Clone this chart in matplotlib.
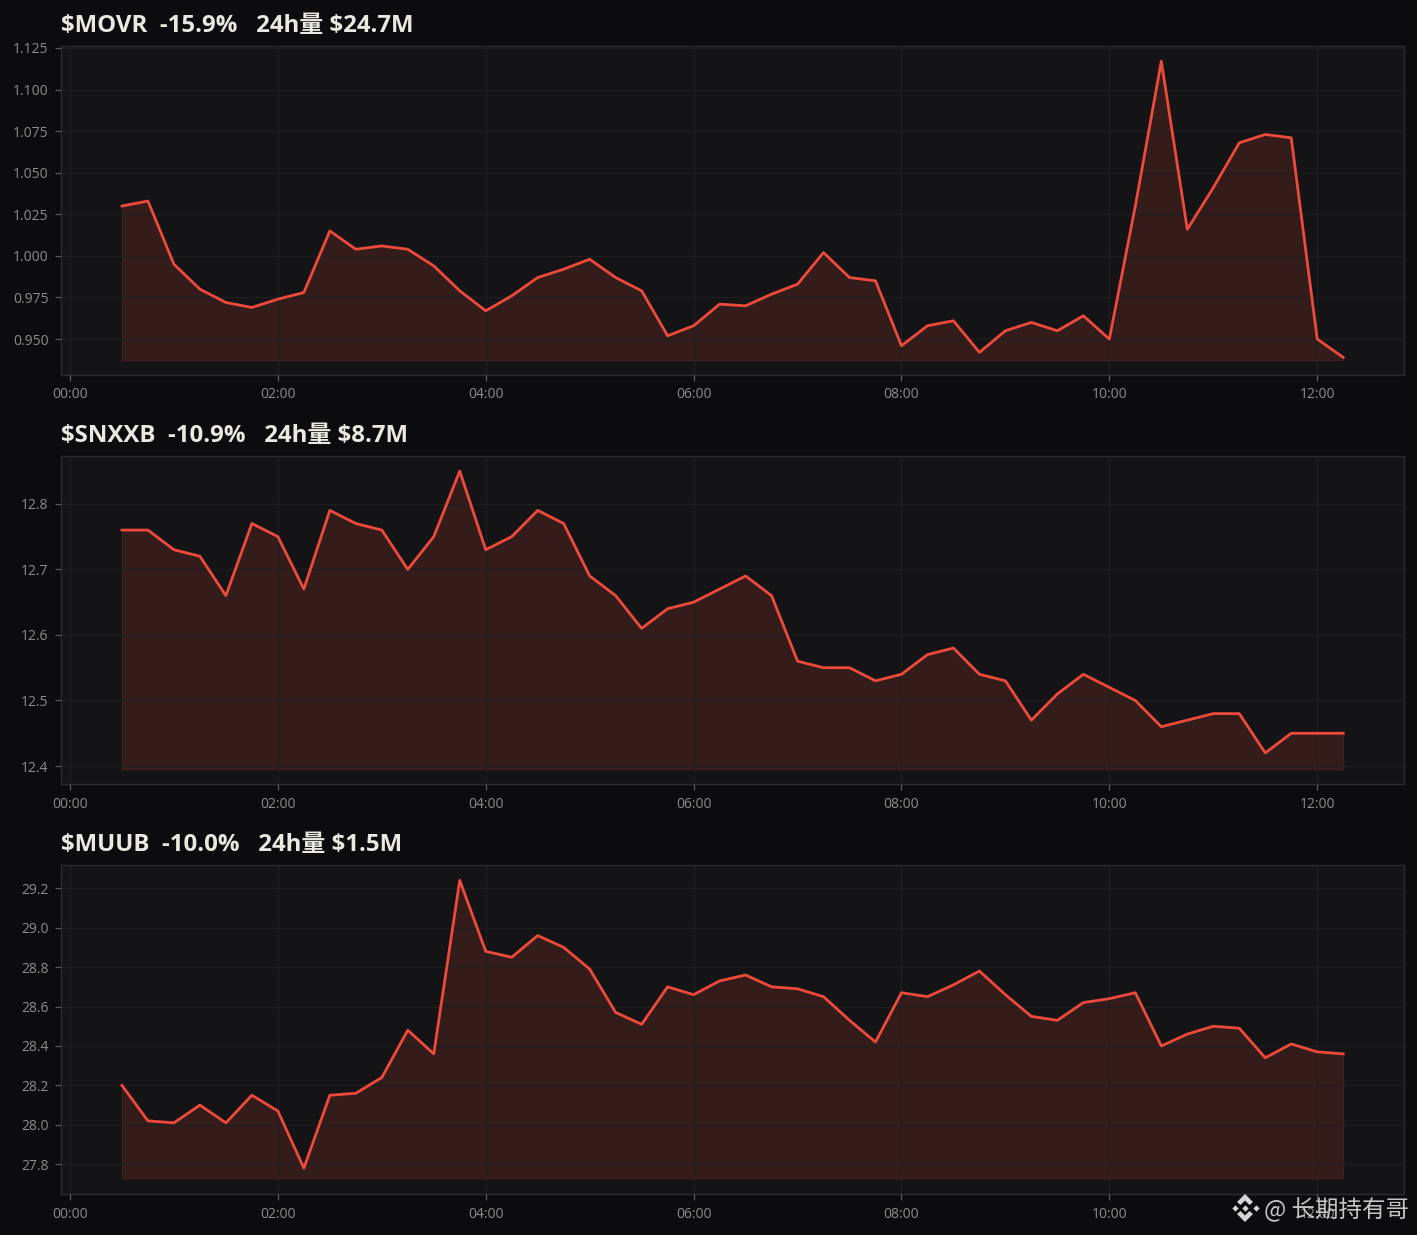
import matplotlib
matplotlib.use("Agg")
import matplotlib.pyplot as plt
from matplotlib.patches import Polygon
from matplotlib.lines import Line2D

W, H = 1417, 1235
BG = "#0c0c0e"
PANEL = "#141416"
GRID = "#1f1f22"
SPINE = "#2d2d30"
TICK = "#8c8c8c"
TITLE = "#ebe8e1"
RED = "#ee4a3c"

plt.rcParams["font.family"] = ["Open Sans", "Noto Sans CJK SC", "DejaVu Sans"]

hours = [0.5 + 0.25 * i for i in range(48)]
hour_ticks = [0, 2, 4, 6, 8, 10, 12]
hour_labels = ["00:00", "02:00", "04:00", "06:00", "08:00", "10:00", "12:00"]

movr = [1.030, 1.033, 0.995, 0.980, 0.972, 0.969, 0.974, 0.978, 1.015, 1.004, 1.006, 1.004,
        0.994, 0.979, 0.967, 0.976, 0.987, 0.992, 0.998, 0.987, 0.979, 0.952, 0.958, 0.971,
        0.970, 0.977, 0.983, 1.002, 0.987, 0.985, 0.946, 0.958, 0.961, 0.942, 0.955, 0.960,
        0.955, 0.964, 0.950, 1.030, 1.117, 1.016, 1.041, 1.068, 1.073, 1.071, 0.950, 0.939]
snxxb = [12.76, 12.76, 12.73, 12.72, 12.66, 12.77, 12.75, 12.67, 12.79, 12.77, 12.76, 12.70,
         12.75, 12.85, 12.73, 12.75, 12.79, 12.77, 12.69, 12.66, 12.61, 12.64, 12.65, 12.67,
         12.69, 12.66, 12.56, 12.55, 12.55, 12.53, 12.54, 12.57, 12.58, 12.54, 12.53, 12.47,
         12.51, 12.54, 12.52, 12.50, 12.46, 12.47, 12.48, 12.48, 12.42, 12.45, 12.45, 12.45]
muub = [28.20, 28.02, 28.01, 28.10, 28.01, 28.15, 28.07, 27.78, 28.15, 28.16, 28.24, 28.48,
        28.36, 29.24, 28.88, 28.85, 28.96, 28.90, 28.79, 28.57, 28.51, 28.70, 28.66, 28.73,
        28.76, 28.70, 28.69, 28.65, 28.53, 28.42, 28.67, 28.65, 28.71, 28.78, 28.66, 28.55,
        28.53, 28.62, 28.64, 28.67, 28.40, 28.46, 28.50, 28.49, 28.34, 28.41, 28.37, 28.36]

titles = ["$MOVR  -15.9%   24h量 $24.7M", "$SNXXB  -10.9%   24h量 $8.7M", "$MUUB  -10.0%   24h量 $1.5M"]
movr_ticks = [0.950, 0.975, 1.000, 1.025, 1.050, 1.075, 1.100, 1.125]
snxxb_ticks = [12.4, 12.5, 12.6, 12.7, 12.8]
muub_ticks = [27.8, 28.0, 28.2, 28.4, 28.6, 28.8, 29.0, 29.2]

# panel: series, yticks, tick format, ylim, fill floor, pixel top/bottom
panels = [
    (movr, movr_ticks, "%.3f", (0.9284, 1.1262), 0.9374, 46, 375),
    (snxxb, snxxb_ticks, "%.1f", (12.3726, 12.873), 12.395, 456, 784),
    (muub, muub_ticks, "%.1f", (27.649, 29.318), 27.729, 865, 1194),
]

fig = plt.figure(figsize=(W / 100, H / 100), dpi=100, facecolor=BG)

for (vals, yt, fmt, ylim, floor, top, bot), title in zip(panels, titles):
    ax = fig.add_axes([61 / W, 1 - bot / H, (1404 - 61) / W, (bot - top) / H], facecolor=PANEL)
    ax.fill_between(hours, vals, floor, facecolor=RED, alpha=0.15, edgecolor=RED, lw=0.8, zorder=1)
    ax.plot(hours, vals, color=RED, lw=2.0, zorder=3, solid_joinstyle="round")
    ax.set_xlim(-0.0865, 12.835)
    ax.set_ylim(*ylim)
    ax.set_xticks(hour_ticks, hour_labels)
    ax.set_yticks(yt, [fmt % v for v in yt])
    ax.grid(True, color=GRID, lw=0.9, zorder=2)
    ax.set_axisbelow(False)
    for line in ax.get_xgridlines() + ax.get_ygridlines():
        line.set_zorder(2)
    ax.tick_params(colors=TICK, labelsize=10, length=4, width=0.9, pad=5)
    ax.tick_params(color="#5a5a5c")
    for s in ax.spines.values():
        s.set_color(SPINE)
        s.set_linewidth(1.0)
    fig.text(61 / W, 1 - (top - 14) / H, title, color=TITLE, fontsize=17.3, fontweight="bold",
             va="baseline", ha="left", parse_math=False)

# watermark
MARK = "#d6d6d6"
fig.text(1264 / W, 1 - 1217 / H, "@ 长期持有哥", color=MARK, fontsize=16.9, va="baseline", ha="left",
         alpha=0.92, family=["Noto Sans CJK SC", "DejaVu Sans"], zorder=10)
cx, cy = 1245, 1208


def px(dx, dy):
    return (cx + dx) / W, 1 - (cy + dy) / H


for sign in (-1, 1):
    chevron = [px(0, sign * 14), px(8, sign * 6), px(4.5, sign * 3), px(0, sign * 7.5), px(-4.5, sign * 3), px(-8, sign * 6)]
    fig.add_artist(Polygon(chevron, closed=True, transform=fig.transFigure, fc=MARK, ec="none", zorder=10))
    fig.add_artist(Line2D(*zip(px(sign * 10.5, 0)), transform=fig.transFigure, marker="D", ms=3.2,
                          color=MARK, mec="none", zorder=10))
fig.add_artist(Line2D(*zip(px(0, 0)), transform=fig.transFigure, marker="D", ms=3.2,
                      color=MARK, mec="none", zorder=10))

fig.savefig("out.png", dpi=100, facecolor=BG)
